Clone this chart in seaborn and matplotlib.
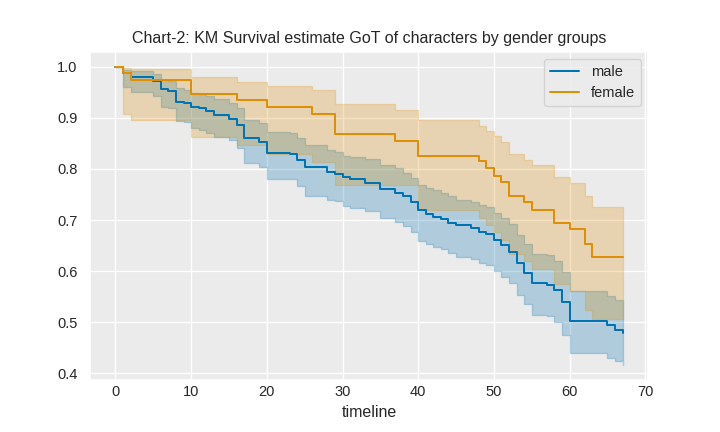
import numpy as np
import pandas as pd
import matplotlib
matplotlib.use('Agg')
import matplotlib.pyplot as plt
import seaborn as sns

# KM estimates (timeline, survival, CI)
male_t = [0, 1, 2, 5, 6, 7, 8, 9, 10, 11, 12, 13, 15, 16, 17, 19, 20, 23, 24, 25,
          28, 29, 30, 31, 33, 35, 37, 38, 39, 40, 41, 42, 43, 44, 45, 47, 48, 49,
          50, 51, 52, 53, 54, 55, 57, 58, 59, 60, 65, 66, 67]
male_s = [1.0, 0.987, 0.980, 0.972, 0.957, 0.952, 0.932, 0.930, 0.922, 0.919, 0.914,
          0.906, 0.898, 0.886, 0.861, 0.852, 0.832, 0.830, 0.817, 0.803, 0.795, 0.791,
          0.784, 0.780, 0.772, 0.761, 0.753, 0.747, 0.735, 0.719, 0.712, 0.707, 0.703,
          0.695, 0.690, 0.685, 0.677, 0.673, 0.662, 0.651, 0.638, 0.617, 0.597, 0.577,
          0.573, 0.563, 0.540, 0.502, 0.494, 0.485, 0.479]
male_hi = [1.0, 0.993, 0.991, 0.986, 0.975, 0.973, 0.959, 0.955, 0.948, 0.946, 0.942,
           0.936, 0.929, 0.920, 0.896, 0.890, 0.872, 0.870, 0.860, 0.847, 0.838, 0.834,
           0.826, 0.824, 0.819, 0.807, 0.801, 0.792, 0.783, 0.769, 0.763, 0.758, 0.753,
           0.748, 0.740, 0.735, 0.730, 0.726, 0.713, 0.704, 0.692, 0.671, 0.653, 0.634,
           0.631, 0.620, 0.598, 0.561, 0.551, 0.544, 0.540]
male_lo = [1.0, 0.961, 0.951, 0.942, 0.922, 0.919, 0.894, 0.891, 0.880, 0.877, 0.870,
           0.863, 0.857, 0.841, 0.812, 0.804, 0.781, 0.780, 0.766, 0.748, 0.740, 0.737,
           0.728, 0.724, 0.717, 0.705, 0.697, 0.689, 0.676, 0.659, 0.653, 0.648, 0.644,
           0.636, 0.628, 0.623, 0.617, 0.612, 0.600, 0.588, 0.577, 0.554, 0.535, 0.515,
           0.512, 0.500, 0.475, 0.439, 0.431, 0.425, 0.416]

female_t = [0, 1, 2, 10, 16, 20, 26, 29, 37, 40, 48, 49, 50, 51, 52, 54, 55, 58, 60,
            62, 63, 67]
female_s = [1.0, 0.988, 0.974, 0.947, 0.934, 0.921, 0.908, 0.869, 0.855, 0.826, 0.815,
            0.801, 0.787, 0.774, 0.747, 0.735, 0.720, 0.695, 0.682, 0.654, 0.628, 0.628]
female_hi = [1.0, 0.998, 0.995, 0.980, 0.971, 0.963, 0.954, 0.927, 0.916, 0.895, 0.885,
             0.875, 0.864, 0.852, 0.830, 0.818, 0.808, 0.785, 0.773, 0.748, 0.726, 0.726]
female_lo = [1.0, 0.908, 0.896, 0.862, 0.847, 0.830, 0.813, 0.768, 0.768, 0.719, 0.705,
             0.691, 0.676, 0.661, 0.633, 0.620, 0.604, 0.575, 0.561, 0.525, 0.507, 0.507]

sns.set_theme(context='notebook', style='darkgrid', palette='colorblind',
              rc={'axes.facecolor': '#EBEBEB',
                  'xtick.major.size': 0, 'xtick.major.pad': 4})
plt.rcParams['font.family'] = ['Liberation Sans', 'DejaVu Sans']

colors = sns.color_palette('colorblind')
groups = [('male', male_t, male_s, male_lo, male_hi, colors[0]),
          ('female', female_t, female_s, female_lo, female_hi, colors[1])]

fig, ax = plt.subplots(figsize=(7.5, 4.5), dpi=96)
fig.subplots_adjust(bottom=0.12)
for name, t, s, lo, hi, c in groups:
    df = pd.DataFrame({'timeline': t, 'surv': s})
    sns.lineplot(x='timeline', y='surv', data=df, drawstyle='steps-post',
                 estimator=None, color=c, label=name, ax=ax)
    ax.fill_between(t, lo, hi, step='post', alpha=0.25, color=c)

ax.set_title('Chart-2: KM Survival estimate GoT of characters by gender groups', pad=7)
ax.set_xlabel('timeline')
ax.set_ylabel('')
ax.set_xticks(np.arange(0, 80, 10))
ax.legend(loc='upper right')
plt.savefig('out.png')
